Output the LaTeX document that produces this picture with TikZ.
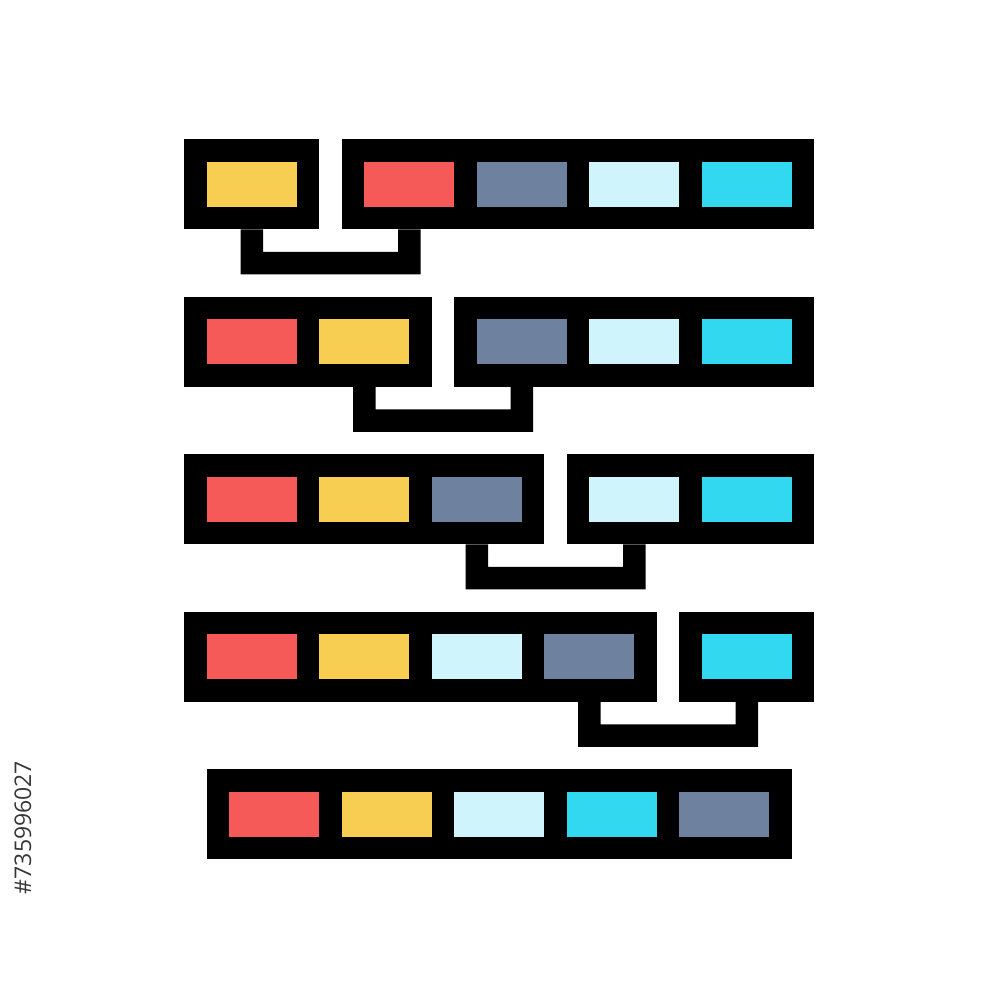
\documentclass[tikz,border=0pt]{standalone}
\usepackage{fontspec}
\newfontfamily\idfont{Open Sans}
\definecolor{cR}{RGB}{245,90,89}
\definecolor{cY}{RGB}{247,206,82}
\definecolor{cG}{RGB}{110,130,160}
\definecolor{cL}{RGB}{207,244,252}
\definecolor{cC}{RGB}{50,215,240}
\definecolor{idgray}{RGB}{55,55,55}
\tikzset{
  frame/.style={fill=black},
  cell/.style={fill=#1},
}
\begin{document}
\begin{tikzpicture}[x=0.5pt,y=-0.5pt]
\useasboundingbox (0,0) rectangle (1000,1000);
\fill[white] (0,0) rectangle (1000,1000);
\def\u{22.5}
\def\xo{184.3}
% rows with two groups and a connector
\foreach \r/\k/\cols in {0/1/{cY,cR,cG,cL,cC},1/2/{cR,cY,cG,cL,cC},2/3/{cR,cY,cG,cL,cC},3/4/{cR,cY,cL,cG,cC}}{
  \pgfmathsetmacro\t{139.3+157.5*\r}
  \pgfmathsetmacro\la{\xo}
  \pgfmathsetmacro\lb{\xo+(5*\k+1)*\u}
  \pgfmathsetmacro\ra{\xo+(5*\k+2)*\u}
  \pgfmathsetmacro\rb{\xo+28*\u}
  \pgfmathsetmacro\bt{\t+4*\u}
  \pgfmathsetmacro\cm{\t+5*\u}
  \pgfmathsetmacro\cb{\t+6*\u}
  \pgfmathsetmacro\pl{\xo+(5*\k-2.5)*\u}
  \pgfmathsetmacro\pr{\xo+(5*\k-1.5)*\u}
  \pgfmathsetmacro\ql{\xo+(5*\k+4.5)*\u}
  \pgfmathsetmacro\qr{\xo+(5*\k+5.5)*\u}
  % group frames
  \fill[frame] (\la,\t) rectangle (\lb,\bt);
  \fill[frame] (\ra,\t) rectangle (\rb,\bt);
  % connector
  \fill[frame] (\pl,\bt) -- (\pl,\cb) -- (\qr,\cb) -- (\qr,\bt) -- (\ql,\bt) -- (\ql,\cm) -- (\pr,\cm) -- (\pr,\bt) -- cycle;
  % cells
  \foreach \c [count=\i from 0] in \cols {
    \pgfmathsetmacro\cx{\xo+(5*\i+(\i<\k?1:3))*\u}
    \fill[cell=\c] (\cx,\t+\u) rectangle (\cx+4*\u,\t+3*\u);
  }
}
% final merged row
\pgfmathsetmacro\t{139.3+157.5*4}
\fill[frame] (\xo+\u,\t) rectangle (\xo+27*\u,\t+4*\u);
\foreach \c [count=\i from 0] in {cR,cY,cL,cC,cG}{
  \pgfmathsetmacro\cx{\xo+(5*\i+2)*\u}
  \fill[cell=\c] (\cx,\t+\u) rectangle (\cx+4*\u,\t+3*\u);
}
\node[rotate=90, text=idgray, font=\idfont\fontsize{11.5}{12}\selectfont, inner sep=0pt] (id) at (23,827.5) {\#735996027};
\end{tikzpicture}
\end{document}
